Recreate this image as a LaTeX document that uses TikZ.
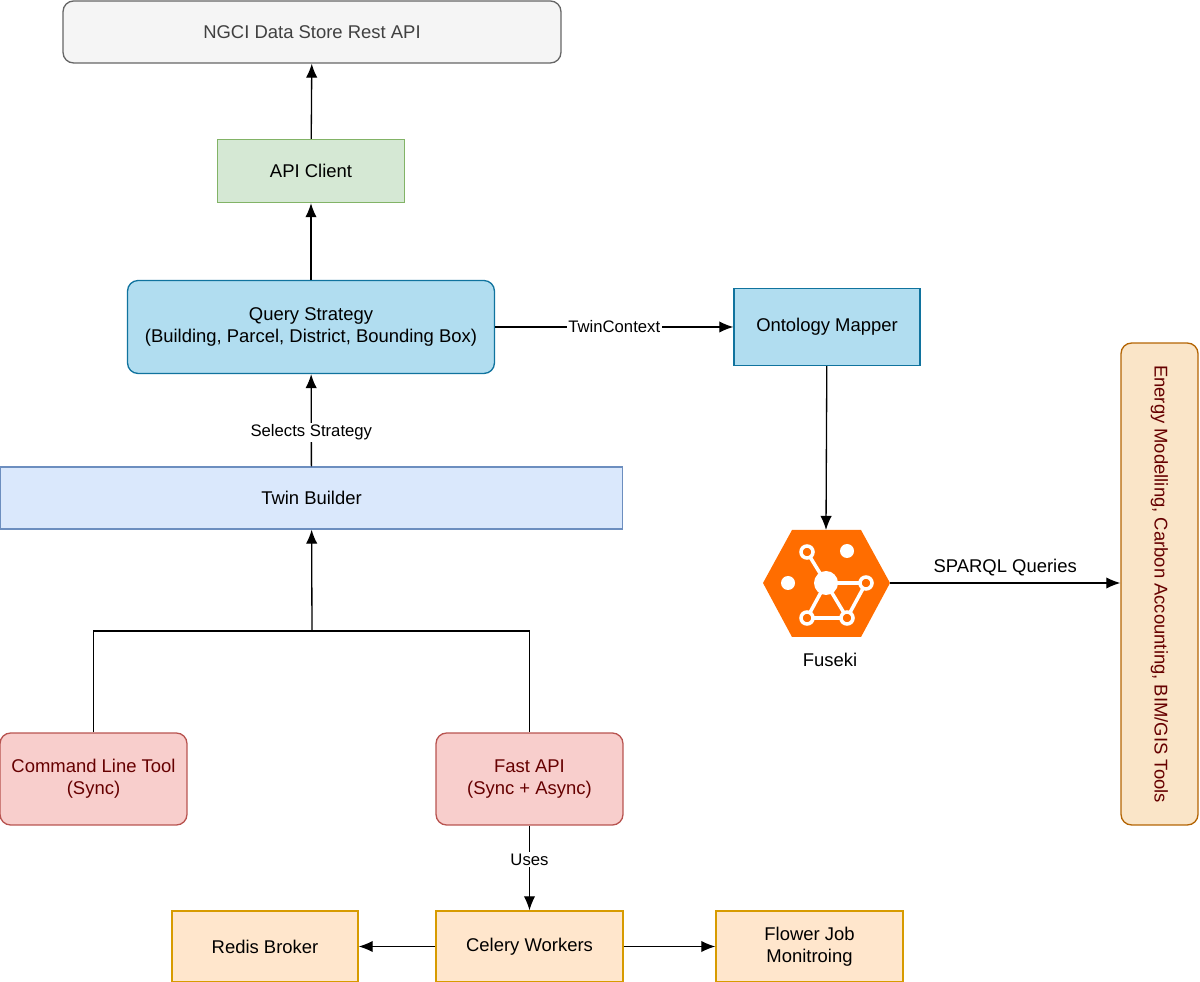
\documentclass[tikz,border=0pt]{standalone}
\usepackage{fontspec}
\setmainfont{Liberation Sans}
\usetikzlibrary{arrows.meta,positioning}
\definecolor{grayfill}{HTML}{F5F5F5}
\definecolor{grayline}{HTML}{666666}
\definecolor{greenfill}{HTML}{D5E8D4}
\definecolor{greenline}{HTML}{82B366}
\definecolor{bluefill}{HTML}{B1DDF0}
\definecolor{blueline}{HTML}{10739E}
\definecolor{lightfill}{HTML}{DAE8FC}
\definecolor{lightline}{HTML}{6C8EBF}
\definecolor{redfill}{HTML}{F8CECC}
\definecolor{redline}{HTML}{B85450}
\definecolor{redtext}{HTML}{660000}
\definecolor{orangefill}{HTML}{FFE6CC}
\definecolor{orangeline}{HTML}{D79B00}
\definecolor{toolfill}{HTML}{FAE5C8}
\definecolor{toolline}{HTML}{B46504}
\definecolor{fuseki}{HTML}{FF6D00}
\tikzset{>={Latex[length=8pt,width=6.5pt]}}
\tikzset{
  box/.style={draw,align=center,font=\fontsize{10.5}{12.5}\selectfont,inner sep=0pt},
  lbl/.style={font=\fontsize{9.5}{11}\selectfont,fill=white,inner sep=1pt},
}
\begin{document}
\begin{tikzpicture}[x=0.02cm,y=-0.02cm,line width=0.75pt]
		\useasboundingbox (0,0) rectangle (1200,982);
		\node[box,fill=grayfill,draw=grayline,text=black!75,rounded corners=6pt,minimum width=9.96cm,minimum height=1.24cm] (ngci) at (312,32) {NGCI Data Store Rest API};
		\node[box,fill=greenfill,draw=greenline,minimum width=3.74cm,minimum height=1.26cm] (client) at (311,171) {API Client};
		\node[box,fill=bluefill,draw=blueline,rounded corners=6pt,minimum width=7.34cm,minimum height=1.86cm] (query) at (311,327) {Query Strategy\\(Building, Parcel, District, Bounding Box)};
		\node[box,fill=bluefill,draw=blueline,minimum width=3.72cm,minimum height=1.54cm] (mapper) at (827,327) {Ontology Mapper};
		\node[box,fill=lightfill,draw=lightline,minimum width=12.44cm,minimum height=1.24cm] (twin) at (311.5,498) {Twin Builder};
		\node[box,fill=toolfill,draw=toolline,text=redtext,rounded corners=6pt,minimum width=9.64cm,minimum height=1.54cm,rotate=-90] (tools) at (1159.5,584) {Energy Modelling, Carbon Accounting, BIM/GIS Tools};
		\node[box,fill=redfill,draw=redline,text=redtext,rounded corners=6pt,minimum width=3.74cm,minimum height=1.84cm] (cli) at (93.5,779) {Command Line Tool\\(Sync)};
		\node[box,fill=redfill,draw=redline,text=redtext,rounded corners=6pt,minimum width=3.74cm,minimum height=1.84cm] (fast) at (529.5,779) {Fast API\\(Sync + Async)};
		\node[box,fill=orangefill,draw=orangeline,minimum width=3.72cm,minimum height=1.42cm] (redis) at (265,946.5) {Redis Broker};
		\node[box,fill=orangefill,draw=orangeline,minimum width=3.74cm,minimum height=1.42cm] (celery) at (529.5,946.5) {Celery Workers};
		\node[box,fill=orangefill,draw=orangeline,minimum width=3.74cm,minimum height=1.42cm] (flower) at (809.5,946.5) {Flower Job\\Monitroing};
		% Fuseki icon
		\fill[fuseki] (792,530) -- (861,530) -- (890,583) -- (861,637) -- (792,637) -- (763,583) -- cycle;
		\coordinate (fus) at (826,583);
		\coordinate (fuse) at (890,583);
		\coordinate (fusn) at (826,530);
		\draw[white,line width=2pt] (fus) -- (807,552) (fus) -- (866,583) (fus) -- (807,618) (fus) -- (847,618) -- (807,618) (847,618) -- (866,583);
		\fill[white] (fus) circle (12) (847,551) circle (7) (788,583) circle (7);
		\foreach \p in {(807,552),(866,583),(807,618),(847,618)}
			\draw[white,fill=fuseki,line width=2pt] \p circle (6);
		\node[font=\fontsize{10.5}{12}\selectfont] (fuslbl) at (830,660) {Fuseki};
		% connectors
		\coordinate (join) at (312,631);
		\draw[->] (client) -- (ngci);
		\draw[->] (query) -- (client);
		\draw[->] (twin) -- node[lbl,pos=0.37] {Selects Strategy} (query);
		\draw[->] (query) -- node[lbl] {TwinContext} (mapper);
		\draw[->] (mapper) -- (fusn);
		\draw[->] (fuse) -- node[above,font=\fontsize{10.5}{12}\selectfont] {SPARQL Queries} (tools.south |- fuse);
		\draw (cli) |- (join) -| (fast);
		\draw[->] (join) -- (twin);
		\draw[->] (fast) -- node[lbl,pos=0.4] {Uses} (celery);
		\draw[->] (celery) -- (redis);
		\draw[->] (celery) -- (flower);
\end{tikzpicture}
\end{document}
